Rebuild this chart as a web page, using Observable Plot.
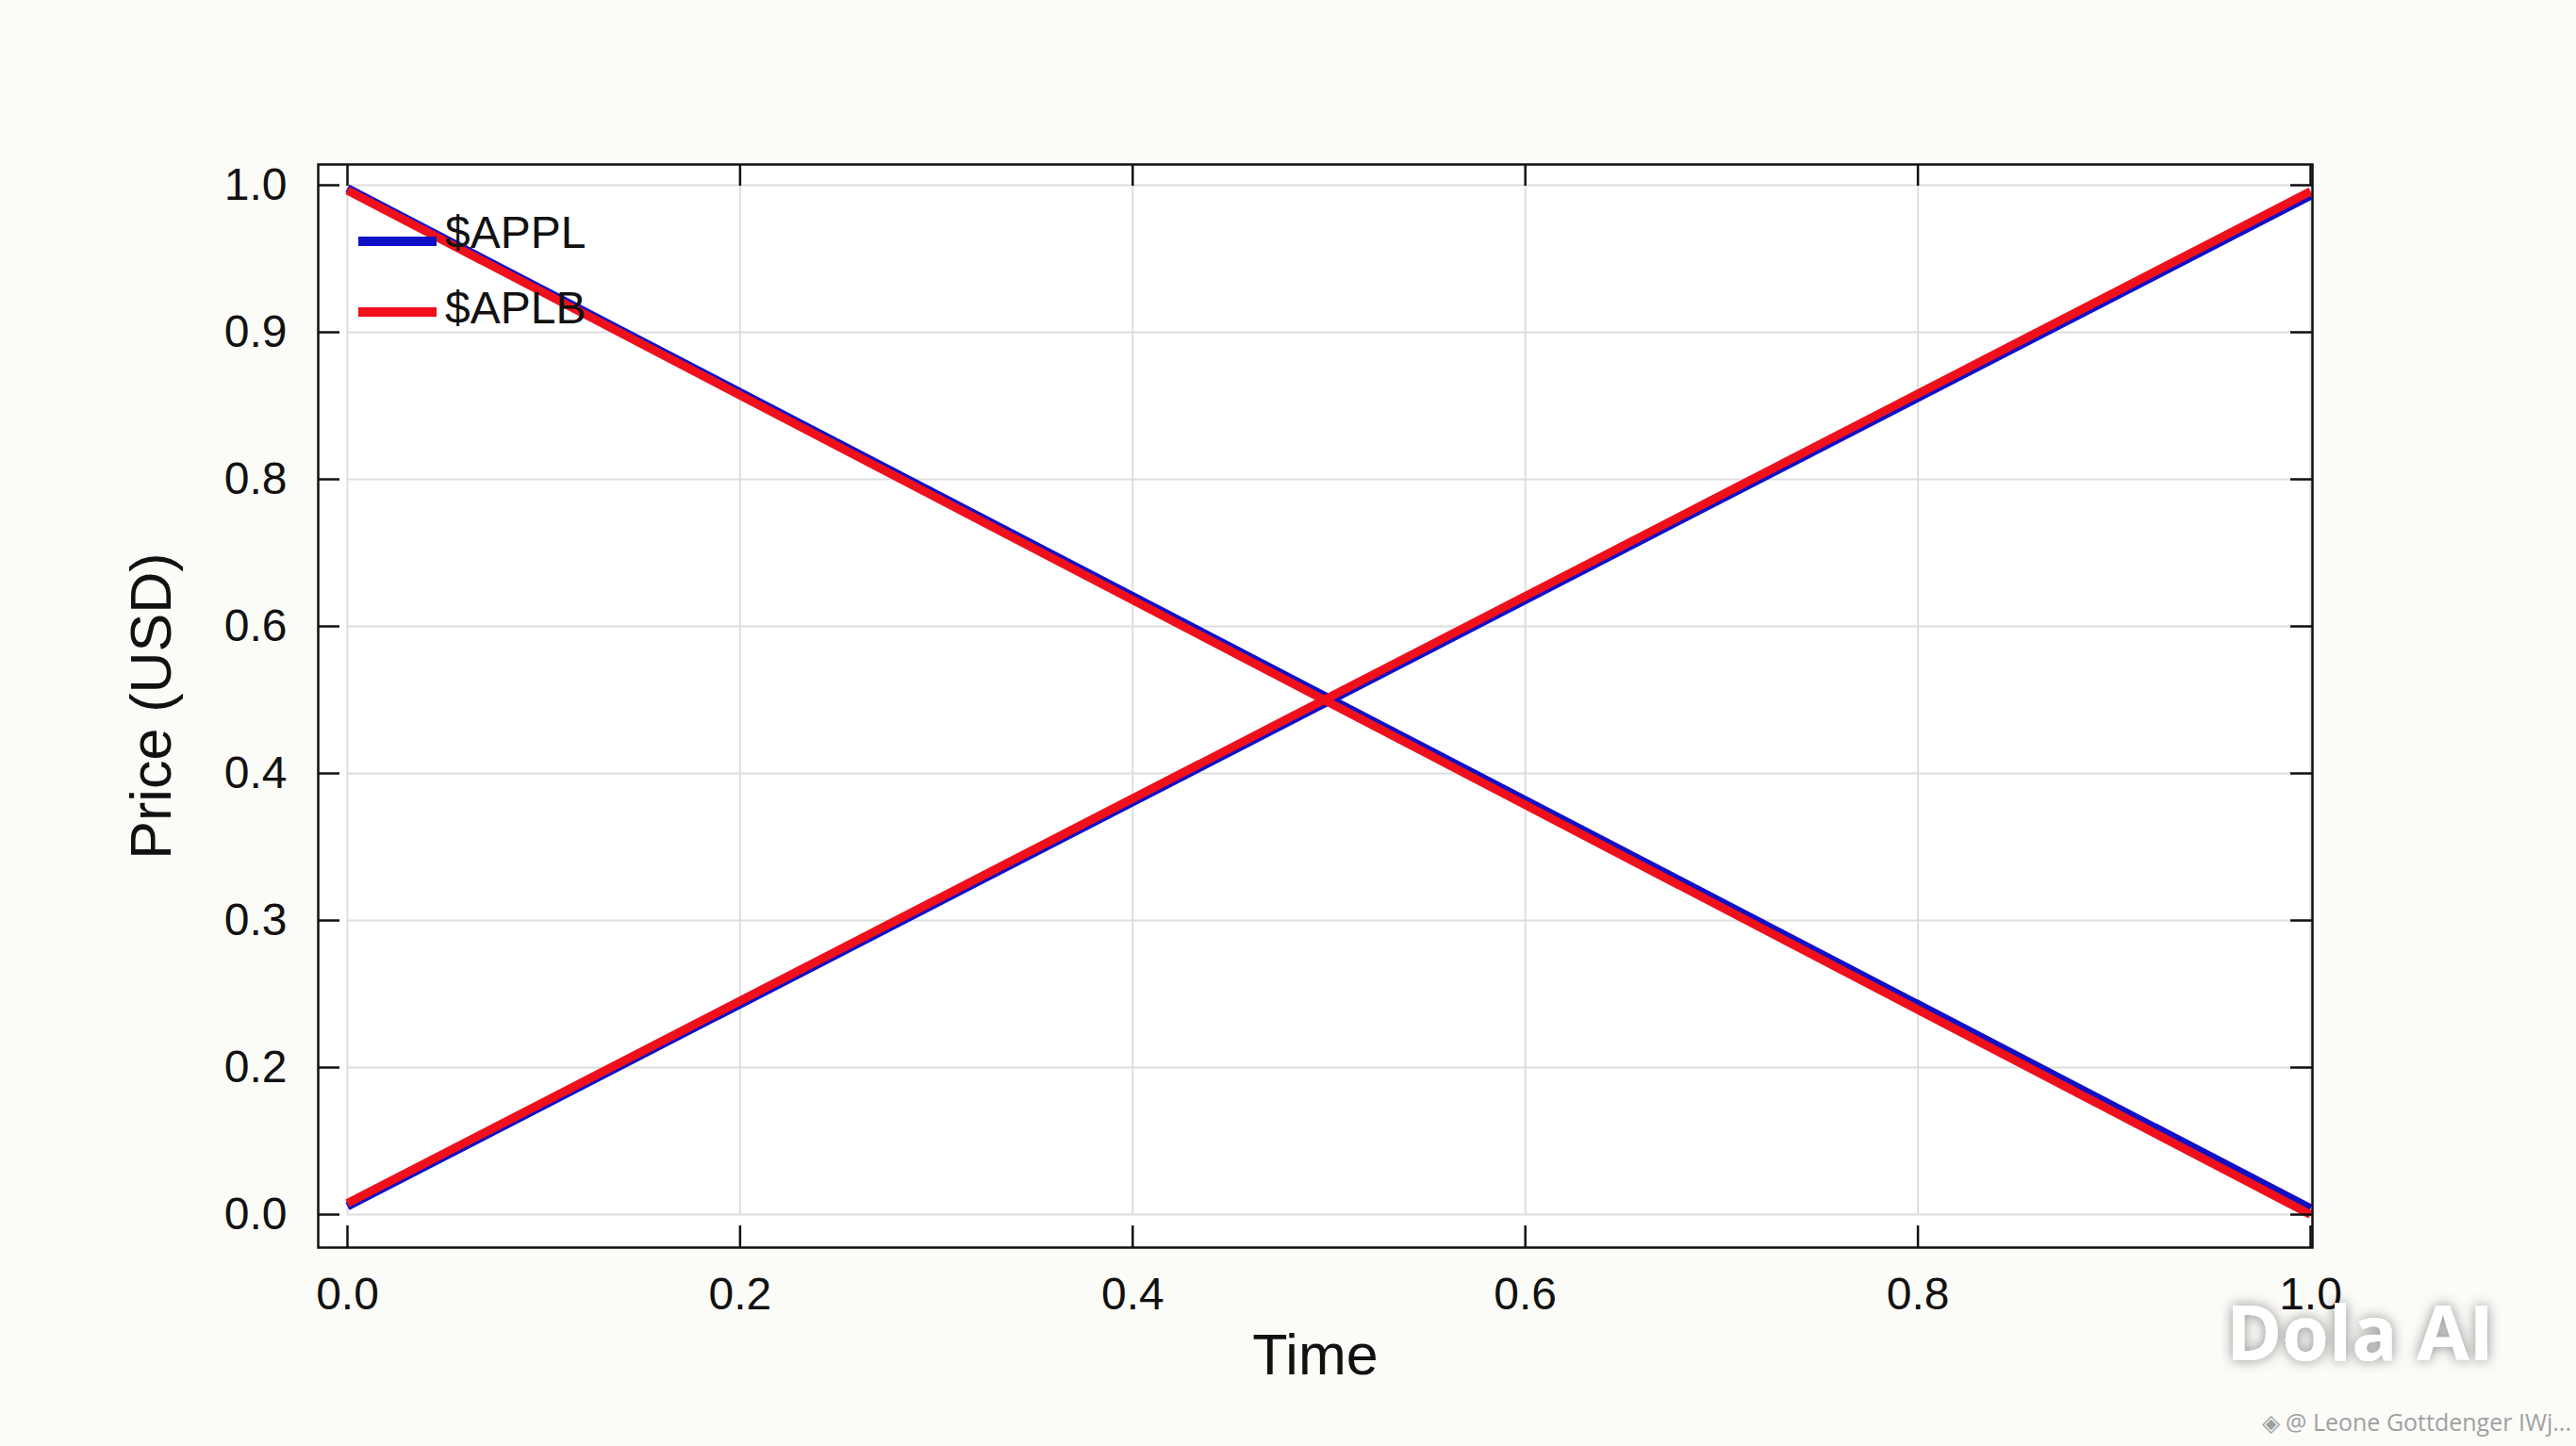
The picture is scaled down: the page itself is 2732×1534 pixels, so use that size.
<!DOCTYPE html>
<html>
<head>
<meta charset="utf-8">
<script src="https://cdn.jsdelivr.net/npm/d3@7"></script>
<script src="https://cdn.jsdelivr.net/npm/@observablehq/plot@0.6"></script>
<style>
html, body { margin: 0; padding: 0; background: #fbfbf8; }
#wrap { position: relative; width: 2732px; height: 1534px; overflow: hidden; font-family: "Liberation Sans", Arial, sans-serif; }
#chart { position: absolute; left: 0; top: 0; }
#overlay { position: absolute; left: 0; top: 0; pointer-events: none; }
</style>
</head>
<body>
<div id="wrap"><div id="chart"></div></div>
<script>
// ---- data ----
const tickers = ["$APPL", "$APLB"];
const colors = ["#1010c6", "#f0101c"];
const time = [0, 1];
const applDown = [0.997, 0.006];
const applUp = [0.008, 0.990];
const aplbDown = [0.995, 0.000];
const aplbUp = [0.011, 0.994];
const xTicks = [0, 0.2, 0.4, 0.6, 0.8, 1.0];
const xTickLabels = ["0.0", "0.2", "0.4", "0.6", "0.8", "1.0"];
const yTickLabels = ["0.0", "0.2", "0.3", "0.4", "0.6", "0.8", "0.9", "1.0"];
const xDomain = [0, 1];
const yDomain = [0, 1];
const xLabel = "Time";
const yLabel = "Price (USD)";

// evenly spaced tick positions carrying the printed labels
const yTicks = yTickLabels.map((_, i) => i / (yTickLabels.length - 1));

const series = [
  {ticker: tickers[0], leg: "APPL-down", values: applDown},
  {ticker: tickers[0], leg: "APPL-up", values: applUp},
  {ticker: tickers[1], leg: "APLB-down", values: aplbDown},
  {ticker: tickers[1], leg: "APLB-up", values: aplbUp}
];
const rows = series.flatMap(s => time.map((t, i) => ({time: t, price: s.values[i], ticker: s.ticker, leg: s.leg})));

// ---- layout ----
const W = 2732, H = 1534;
const frameL = 337, frameR = 2452, frameT = 174, frameB = 1323;
const mL = frameL, mR = W - frameR, mT = frameT, mB = H - frameB;
const frameW = frameR - frameL, frameH = frameB - frameT;
const tickLen = 23;
const font = "Liberation Sans, Arial, sans-serif";

const chart = Plot.plot({
  width: W,
  height: H,
  marginLeft: mL,
  marginRight: mR,
  marginTop: mT,
  marginBottom: mB,
  style: {background: "transparent", fontFamily: font, color: "#111"},
  x: {domain: xDomain, range: [368, 2450]},
  y: {domain: yDomain, range: [1288, 196]},
  color: {domain: tickers, range: colors},
  marks: [
    Plot.frame({fill: "#ffffff"}),
    Plot.ruleX(xTicks, {x: d => d, y1: yDomain[0], y2: yDomain[1], stroke: "#dedede", strokeWidth: 2}),
    Plot.ruleY(yTicks, {y: d => d, x1: xDomain[0], x2: xDomain[1], stroke: "#dedede", strokeWidth: 2}),
    Plot.line(rows, {x: "time", y: "price", z: "leg", stroke: "ticker", strokeWidth: 9, strokeLinecap: "butt"}),
    Plot.tickX(xTicks, {x: d => d, insetTop: frameH - tickLen, stroke: "#111", strokeWidth: 2.5}),
    Plot.tickX(xTicks, {x: d => d, insetBottom: frameH - tickLen, stroke: "#111", strokeWidth: 2.5}),
    Plot.tickY(yTicks, {y: d => d, insetRight: frameW - tickLen, stroke: "#111", strokeWidth: 2.5}),
    Plot.tickY(yTicks, {y: d => d, insetLeft: frameW - tickLen, stroke: "#111", strokeWidth: 2.5}),
    Plot.frame({stroke: "#111", strokeWidth: 2.5}),
    Plot.axisX({ticks: xTicks, tickSize: 0, tickPadding: 31, fontSize: 48, fill: "#111",
      tickFormat: d => xTickLabels[xTicks.indexOf(d)], label: null}),
    Plot.axisY({ticks: yTicks, tickSize: 0, tickPadding: 33, fontSize: 48, fill: "#111",
      tickFormat: d => yTickLabels[yTicks.indexOf(d)], label: null}),
    Plot.text([xLabel], {text: d => d, frameAnchor: "bottom", lineAnchor: "bottom", dy: 134, fontSize: 61, fill: "#111"}),
    Plot.text([yLabel], {text: d => d, frameAnchor: "left", textAnchor: "middle", lineAnchor: "bottom", rotate: -90, dx: -157, fontSize: 61, fill: "#111"})
  ]
});
document.getElementById("chart").appendChild(chart);

// ---- legend and watermark overlay ----
const ov = d3.select("#wrap").append("svg").attr("id", "overlay").attr("width", W).attr("height", H);
const defs = ov.append("defs");
const f = defs.append("filter").attr("id", "sh").attr("x", "-20%").attr("y", "-40%").attr("width", "140%").attr("height", "180%");
f.append("feDropShadow").attr("dx", 0).attr("dy", 0).attr("stdDeviation", 7).attr("flood-color", "#000").attr("flood-opacity", 0.45);

const legendRows = [{y: 256, base: 263}, {y: 331, base: 343}];
tickers.forEach((t, i) => {
  ov.append("line").attr("x1", 380).attr("x2", 463).attr("y1", legendRows[i].y).attr("y2", legendRows[i].y)
    .attr("stroke", colors[i]).attr("stroke-width", 10);
  ov.append("text").attr("x", 472).attr("y", legendRows[i].base).attr("font-family", font)
    .attr("font-size", 48).attr("fill", "#111").text(t);
});

ov.append("text").attr("x", 2361).attr("y", 1443).attr("font-family", "Open Sans, Noto Sans, sans-serif")
  .attr("font-weight", 700).attr("font-size", 80).attr("fill", "#ffffff").attr("filter", "url(#sh)").text("Dola AI");
ov.append("text").attr("x", 2727).attr("y", 1518).attr("text-anchor", "end").attr("font-family", "Open Sans, Noto Sans, sans-serif")
  .attr("font-size", 25).attr("fill", "#a0a0a0").text("◈ @ Leone Gottdenger IWj...");
</script>
</body>
</html>
